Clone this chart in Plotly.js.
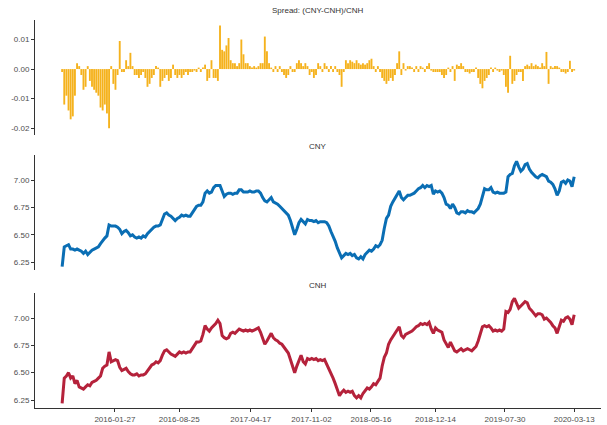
<!DOCTYPE html>
<html>
<head>
<meta charset="utf-8">
<script src="https://cdn.plot.ly/plotly-3.0.1.min.js"></script>
<style>html,body{margin:0;padding:0;background:#fff;}#chart{width:607px;height:425px;}</style>
</head>
<body>
<div id="chart"></div>
<script>
// Weekly (Friday) sample dates: first and last observation
var startDate = '2015-08-07';
var endDate = '2020-03-13';

var cny = [
6.21,6.39,6.40,6.41,6.37,6.37,6.36,6.37,6.36,6.35,
6.33,6.35,6.32,6.34,6.36,6.37,6.38,6.39,6.42,6.45,
6.47,6.49,6.59,6.58,6.58,6.58,6.57,6.55,6.51,6.53,
6.54,6.52,6.49,6.50,6.48,6.47,6.48,6.47,6.49,6.48,
6.51,6.53,6.55,6.57,6.58,6.58,6.59,6.65,6.69,6.70,
6.68,6.67,6.65,6.63,6.65,6.66,6.68,6.67,6.68,6.67,
6.67,6.70,6.74,6.76,6.77,6.77,6.80,6.88,6.90,6.88,
6.89,6.93,6.95,6.95,6.95,6.90,6.85,6.87,6.88,6.88,
6.87,6.88,6.88,6.91,6.91,6.89,6.89,6.89,6.90,6.89,
6.89,6.90,6.90,6.88,6.84,6.81,6.80,6.82,6.84,6.80,
6.79,6.78,6.76,6.74,6.72,6.70,6.68,6.63,6.56,6.50,
6.55,6.61,6.64,6.62,6.60,6.64,6.63,6.63,6.62,6.63,
6.61,6.62,6.62,6.62,6.61,6.58,6.53,6.49,6.44,6.38,
6.33,6.29,6.31,6.33,6.32,6.33,6.31,6.32,6.29,6.28,
6.30,6.28,6.32,6.34,6.36,6.35,6.37,6.40,6.39,6.41,
6.45,6.56,6.65,6.68,6.76,6.80,6.83,6.86,6.90,6.84,
6.82,6.84,6.86,6.86,6.87,6.88,6.90,6.92,6.93,6.95,
6.93,6.95,6.94,6.95,6.87,6.90,6.89,6.90,6.88,6.84,
6.78,6.77,6.74,6.78,6.75,6.70,6.69,6.71,6.71,6.70,
6.72,6.71,6.71,6.70,6.72,6.74,6.78,6.86,6.92,6.91,
6.91,6.93,6.89,6.88,6.89,6.88,6.88,6.88,6.89,7.03,
7.05,7.06,7.13,7.17,7.12,7.08,7.10,7.14,7.15,7.10,
7.07,7.05,7.03,7.02,7.04,7.05,7.04,7.03,6.99,6.98,
6.96,6.92,6.86,6.90,6.98,6.99,6.97,7.00,6.99,6.94,
7.03];

var cnh = [
6.22,6.45,6.47,6.50,6.45,6.47,6.40,6.43,6.37,6.36,
6.35,6.37,6.39,6.38,6.41,6.42,6.43,6.45,6.47,6.54,
6.56,6.57,6.69,6.60,6.61,6.62,6.61,6.55,6.52,6.53,
6.54,6.51,6.49,6.48,6.48,6.49,6.47,6.48,6.48,6.49,
6.52,6.55,6.57,6.58,6.60,6.59,6.61,6.66,6.70,6.71,
6.69,6.67,6.66,6.65,6.67,6.69,6.68,6.69,6.68,6.69,
6.69,6.72,6.76,6.78,6.78,6.79,6.85,6.93,6.90,6.88,
6.91,6.93,6.95,6.98,6.95,6.84,6.82,6.81,6.82,6.86,
6.87,6.86,6.88,6.90,6.89,6.88,6.89,6.88,6.89,6.88,
6.89,6.90,6.91,6.87,6.82,6.76,6.79,6.83,6.86,6.82,
6.80,6.79,6.77,6.76,6.73,6.71,6.68,6.62,6.55,6.50,
6.56,6.62,6.66,6.60,6.58,6.63,6.62,6.63,6.62,6.63,
6.61,6.62,6.61,6.62,6.58,6.53,6.50,6.45,6.40,6.34,
6.29,6.32,6.34,6.32,6.33,6.32,6.33,6.29,6.27,6.29,
6.27,6.31,6.34,6.36,6.35,6.37,6.40,6.39,6.42,6.45,
6.56,6.64,6.68,6.76,6.80,6.83,6.86,6.90,6.92,6.84,
6.82,6.85,6.86,6.87,6.88,6.90,6.92,6.93,6.95,6.94,
6.95,6.94,6.96,6.90,6.86,6.91,6.89,6.88,6.87,6.80,
6.77,6.73,6.78,6.74,6.70,6.69,6.71,6.72,6.70,6.71,
6.72,6.71,6.70,6.72,6.74,6.79,6.86,6.92,6.93,6.92,
6.93,6.91,6.88,6.89,6.88,6.89,6.88,6.90,7.06,7.05,
7.08,7.15,7.18,7.14,7.09,7.11,7.13,7.15,7.14,7.09,
7.07,7.04,7.02,7.04,7.04,7.03,6.99,7.00,6.98,6.96,
6.93,6.91,6.86,6.92,6.98,6.97,7.00,7.01,6.99,6.94,
7.03];

var spread = [
-0.001,-0.012,-0.009,-0.014,-0.017,-0.016,-0.009,0.002,0.001,-0.002,
-0.007,-0.006,0.001,-0.004,-0.006,-0.007,-0.008,-0.009,-0.013,-0.014,
-0.012,-0.015,-0.020,0.001,-0.005,-0.007,-0.002,0.0095,-0.001,-0.001,
0.003,0.001,0.0055,0.001,-0.002,-0.002,-0.003,-0.002,-0.001,-0.003,
-0.006,-0.005,-0.003,-0.002,0.001,0.0005,-0.006,-0.004,-0.003,-0.002,
-0.004,-0.003,0.0015,-0.002,-0.003,-0.002,-0.003,-0.002,-0.001,-0.002,
-0.001,-0.001,-0.0005,-0.001,0.0005,-0.001,0.0005,0.0015,-0.004,-0.003,
0.003,-0.003,-0.003,-0.004,0.0147,0.0065,0.006,0.008,0.0105,0.003,
0.002,0.002,0.001,0.002,0.010,0.005,0.002,0.002,0.001,0.0005,
0.001,0.0005,0.001,0.002,0.002,0.011,0.006,0.002,0.0005,-0.001,
0.001,-0.001,0.001,-0.001,-0.002,-0.003,-0.002,0.001,-0.001,-0.001,
0.002,0.003,0.002,0.001,0.002,0.001,-0.002,-0.001,-0.003,-0.002,
0.002,0.001,-0.001,0.002,0.001,-0.001,0.001,-0.001,0.001,-0.001,
-0.002,-0.006,-0.001,0.003,0.002,0.003,0.0025,0.002,0.003,0.002,
0.0015,0.002,0.0015,0.002,0.003,0.0035,0.001,-0.001,0.001,-0.001,
-0.003,-0.004,-0.005,-0.004,-0.003,-0.004,-0.002,0.002,0.006,-0.002,
0.002,-0.0005,0.001,0.001,0.0005,-0.001,0.001,-0.001,0.001,0.0005,
-0.001,0.001,0.002,-0.0005,-0.001,-0.001,-0.001,-0.001,-0.002,-0.003,
-0.002,0.0005,-0.001,0.001,-0.004,0.0015,0.001,0.002,0.001,-0.001,
-0.001,-0.0015,-0.001,-0.001,0.0005,-0.003,-0.005,-0.0065,-0.004,-0.003,
-0.002,0.0005,-0.001,0.0005,-0.0005,-0.001,-0.0005,-0.002,-0.006,-0.008,
0.0045,-0.005,-0.004,-0.002,-0.001,-0.001,-0.004,0.001,0.0015,0.001,
0.002,0.001,0.0015,0.001,0.0005,0.002,0.001,0.0058,-0.005,0.001,
0.0005,0.001,0.001,0.0005,-0.001,-0.001,-0.0015,-0.001,0.0028,-0.001,
-0.0005];

var xTicks = ['2016-01-27','2016-08-25','2017-04-17','2017-11-02','2018-05-16','2018-12-14','2019-07-30','2020-03-13'];
var spreadTicks = [-0.02, -0.01, 0, 0.01];
var spreadTickText = ['-0.02', '-0.01', '0.00', '0.01'];
var rateTicks = [6.25, 6.50, 6.75, 7.00];
var panelTitles = ['Spread: (CNY-CNH)/CNH', 'CNY', 'CNH'];

// weekly date grid for the observations
var dates = [];
(function () {
  var t0 = Date.parse(startDate + 'T00:00:00Z');
  for (var i = 0; i < cny.length; i++) {
    dates.push(new Date(t0 + i * 7 * 86400000).toISOString().slice(0, 10));
  }
})();

var axisCol = '#333333';
var tickFontCol = '#4d4d4d';

var traces = [
  {type: 'bar', x: dates, y: spread, xaxis: 'x', yaxis: 'y',
   marker: {color: '#F5B21D', line: {width: 0}}, hoverinfo: 'x+y'},
  {type: 'scatter', mode: 'lines', x: dates, y: cny, xaxis: 'x', yaxis: 'y2',
   line: {color: '#0A6EB4', width: 3}},
  {type: 'scatter', mode: 'lines', x: dates, y: cnh, xaxis: 'x', yaxis: 'y3',
   line: {color: '#B5223B', width: 3}}
];

function yax(domain, range, extra) {
  var a = {
    domain: domain, range: range, anchor: 'x',
    showline: true, linecolor: axisCol, linewidth: 1,
    ticks: 'outside', ticklen: 3, tickwidth: 1, tickcolor: axisCol,
    showgrid: false, zeroline: false,
    tickfont: {size: 8, color: tickFontCol}
  };
  for (var k in extra) a[k] = extra[k];
  return a;
}

var layout = {
  width: 607, height: 425,
  margin: {l: 35, r: 6, t: 20, b: 17},
  paper_bgcolor: '#ffffff', plot_bgcolor: '#ffffff',
  showlegend: false, bargap: 0.12,
  font: {family: 'Liberation Sans, Arial, sans-serif', size: 8, color: tickFontCol},
  xaxis: {
    type: 'date', range: ['2015-05-10', '2020-06-09'], anchor: 'y3',
    tickvals: xTicks, ticktext: xTicks,
    showline: true, linecolor: axisCol, linewidth: 1,
    ticks: 'outside', ticklen: 3, tickwidth: 1, tickcolor: axisCol,
    showgrid: false, zeroline: false,
    tickfont: {size: 8, color: tickFontCol}
  },
  yaxis: yax([0.7036, 1], [-0.0223, 0.0166], {tickvals: spreadTicks, ticktext: spreadTickText}),
  yaxis2: yax([0.3557, 0.652], [6.179, 7.228], {tickvals: rateTicks, tickformat: '.2f'}),
  yaxis3: yax([0, 0.2964], [6.177, 7.229], {tickvals: rateTicks, tickformat: '.2f'}),
  annotations: [
    {text: panelTitles[0], xref: 'paper', yref: 'paper', x: 0.5, y: 1, yanchor: 'bottom', yshift: 3, showarrow: false, font: {size: 8, color: '#333333'}},
    {text: panelTitles[1], xref: 'paper', yref: 'paper', x: 0.5, y: 0.652, yanchor: 'bottom', yshift: 2, showarrow: false, font: {size: 8, color: '#333333'}},
    {text: panelTitles[2], xref: 'paper', yref: 'paper', x: 0.5, y: 0.2964, yanchor: 'bottom', yshift: 1, showarrow: false, font: {size: 8, color: '#333333'}}
  ]
};

Plotly.newPlot('chart', traces, layout, {displayModeBar: false, staticPlot: true});
</script>
</body>
</html>
